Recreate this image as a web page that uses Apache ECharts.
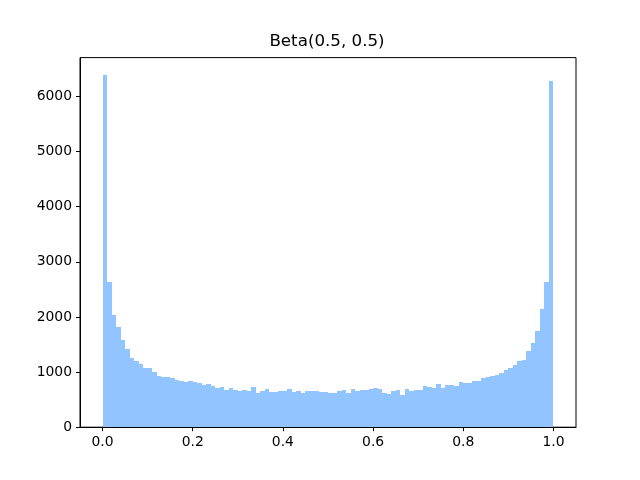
<!DOCTYPE html>
<html>
<head>
<meta charset="utf-8">
<script src="https://cdn.jsdelivr.net/npm/echarts@6/dist/echarts.min.js"></script>
<style>html,body{margin:0;padding:0;background:#fff}#c{width:640px;height:480px}</style>
</head>
<body>
<div id="c"></div>
<script>
const titleText = 'Beta(0.5, 0.5)';
const binStart = 0;
const binEnd = 1;
const counts = [
  6384, 2632, 2034, 1816, 1581, 1417, 1254, 1200, 1146, 1074,
  1074, 1001, 928, 910, 910, 892, 856, 837, 819, 837,
  819, 801, 765, 783, 747, 710, 729, 674, 710, 674,
  656, 674, 656, 729, 620, 656, 692, 638, 638, 656,
  656, 692, 638, 656, 620, 656, 656, 656, 638, 638,
  620, 620, 656, 674, 620, 692, 656, 674, 674, 692,
  710, 692, 620, 601, 656, 674, 583, 692, 656, 674,
  674, 747, 729, 710, 783, 710, 765, 765, 747, 819,
  801, 801, 837, 837, 892, 910, 928, 946, 983, 1037,
  1074, 1128, 1200, 1219, 1382, 1527, 1744, 2143, 2632, 6275
];
const xTicks = [0, 0.2, 0.4, 0.6, 0.8, 1.0];
const yTicks = [0, 1000, 2000, 3000, 4000, 5000, 6000];

const nBins = counts.length;
const width = (binEnd - binStart) / nBins;
const data = counts.map((c, i) => [binStart + i * width, binStart + (i + 1) * width, c]);

const chart = echarts.init(document.getElementById('c'), null, {renderer: 'canvas'});
const font = 'DejaVu Sans';
chart.setOption({
  animation: false,
  backgroundColor: '#fff',
  graphic: [{
    type: 'text',
    x: 327, y: 42,
    style: {
      text: titleText, fontFamily: font, fontSize: 16.7, fill: '#000',
      textAlign: 'center', textVerticalAlign: 'middle'
    }
  }],
  grid: {
    left: 80, right: 64, top: 57.6, bottom: 52.8,
    show: true, borderColor: '#000', borderWidth: 1, backgroundColor: 'transparent',
    containLabel: false
  },
  xAxis: {
    type: 'value',
    min: -0.05, max: 1.05,
    splitLine: {show: false},
    axisLine: {show: true, onZero: false, lineStyle: {color: '#000', width: 1}},
    axisTick: {show: true, customValues: xTicks, length: 4, inside: false, lineStyle: {color: '#000', width: 1}},
    axisLabel: {
      customValues: xTicks, margin: 8, color: '#000', fontFamily: font, fontSize: 13.9,
      formatter: v => v.toFixed(1)
    }
  },
  yAxis: {
    type: 'value',
    min: 0, max: 6703,
    splitLine: {show: false},
    axisLine: {show: true, onZero: false, lineStyle: {color: '#000', width: 1}},
    axisTick: {show: true, customValues: yTicks, length: 4, inside: false, lineStyle: {color: '#000', width: 1}},
    axisLabel: {
      customValues: yTicks, margin: 8, color: '#000', fontFamily: font, fontSize: 13.9,
      formatter: v => String(v)
    }
  },
  series: [{
    type: 'custom',
    data: data,
    encode: {x: [0, 1], y: 2},
    renderItem: function (params, api) {
      const p0 = api.coord([api.value(0), api.value(2)]);
      const p1 = api.coord([api.value(1), 0]);
      const x0 = Math.round(p0[0]), x1 = Math.round(p1[0]);
      const y0 = Math.round(p0[1]), y1 = Math.round(p1[1]);
      return {
        type: 'rect',
        shape: {x: x0, y: y0, width: x1 - x0, height: y1 - y0},
        style: {fill: '#92c5ff', stroke: null}
      };
    }
  }]
});
</script>
</body>
</html>
